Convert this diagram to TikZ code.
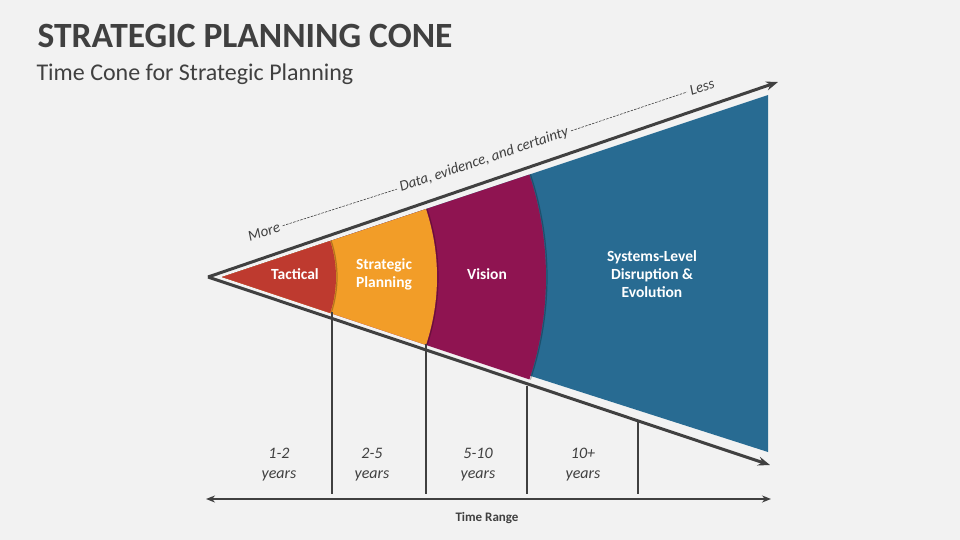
\documentclass[tikz,border=0pt]{standalone}
\usepackage{fontspec}
\setmainfont{Carlito}
\usetikzlibrary{arrows.meta}
\definecolor{bg}{HTML}{F2F2F2}
\definecolor{cred}{HTML}{BE3A2F}
\definecolor{corange}{HTML}{F29D28}
\definecolor{cpurple}{HTML}{8F1451}
\definecolor{cblue}{HTML}{286B92}
\definecolor{dk}{HTML}{404040}
\begin{document}
\begin{tikzpicture}[x=1pt,y=-1pt,
  axis/.style={draw=dk,line width=3pt,-{Stealth[length=12pt,width=9pt]}},
  tick/.style={draw=dk,line width=1.6pt},
  seg/.style={font=\bfseries\fontsize{15.5}{18}\selectfont,text=white,align=center},
  yr/.style={font=\itshape\fontsize{16}{20}\selectfont,text=dk,align=center},
  lab/.style={font=\itshape\fontsize{15}{17}\selectfont,text=dk,rotate=18.5,inner sep=3pt},
  dsh/.style={draw=dk,line width=0.6pt,dash pattern=on 2.5pt off 1.2pt},
  bnd/.style={draw=black,opacity=.25,line width=1.2pt}]
\fill[bg] (0,0) rectangle (960,540);
\useasboundingbox (0,0) rectangle (960,540);
\node[anchor=west,font=\bfseries\fontsize{35.5}{40}\selectfont,text=dk] (title) at (34,36) {STRATEGIC PLANNING CONE};
\node[anchor=west,font=\fontsize{24}{28}\selectfont,text=dk] (sub) at (33,74) {Time Cone for Strategic Planning};
% cone
\coordinate (ap) at (222,277);
\fill[cblue] (ap) -- (768,95) -- (768,452) -- cycle;
\fill[cpurple] (ap) -- ++(18.43:324) arc[start angle=18.43,end angle=-18.43,radius=324] -- cycle;
\fill[corange] (ap) -- ++(18.43:215) arc[start angle=18.43,end angle=-18.43,radius=215] -- cycle;
\fill[cred] (ap) -- ++(18.43:114) arc[start angle=18.43,end angle=-18.43,radius=114] -- cycle;
\draw[bnd] (ap) ++(18.43:325) arc[start angle=18.43,end angle=-18.43,radius=325];
\draw[bnd] (ap) ++(18.43:216) arc[start angle=18.43,end angle=-18.43,radius=216];
\draw[bnd] (ap) ++(18.43:115) arc[start angle=18.43,end angle=-18.43,radius=115];
% axes
\coordinate (apex) at (208,277);
\coordinate (up) at (778,82);
\coordinate (lo) at (770,465);
\draw[axis] (apex) -- (up);
\draw[axis] (apex) -- (lo);
% labels in cone
\node[seg] (t) at (295,274) {Tactical};
\node[seg] (s) at (384,274) {Strategic\\Planning};
\node[seg] (v) at (487,274) {Vision};
\node[seg] (b) at (652,274) {Systems-Level\\Disruption \&\\Evolution};
% top dashed label
\node[lab] (more) at (264,232) {More};
\node[lab] (data) at (484,160) {Data, evidence, and certainty};
\node[lab] (less) at (702,87) {Less};
\draw[dsh] (more.east) -- (data.west);
\draw[dsh] (data.east) -- (less.west);
% ticks
\coordinate (b1) at (332,312); \coordinate (e1) at (332,494);
\coordinate (b2) at (426,344); \coordinate (e2) at (426,494);
\coordinate (b3) at (527,386); \coordinate (e3) at (527,494);
\coordinate (b4) at (638,422); \coordinate (e4) at (638,494);
\draw[tick] (b1) -- (e1);
\draw[tick] (b2) -- (e2);
\draw[tick] (b3) -- (e3);
\draw[tick] (b4) -- (e4);
\node[yr] (y1) at (279,465) {1-2\\years};
\node[yr] (y2) at (372,465) {2-5\\years};
\node[yr] (y3) at (478,465) {5-10\\years};
\node[yr] (y4) at (583,465) {10+\\years};
% time range
\coordinate (tl) at (206,499);
\coordinate (tr) at (771,499);
\draw[draw=dk,line width=1.5pt,{Stealth[length=9pt,width=7pt]}-{Stealth[length=9pt,width=7pt]}] (tl) -- (tr);
\node[font=\bfseries\fontsize{13}{15}\selectfont,text=dk] (tr_lab) at (487,518) {Time Range};
\end{tikzpicture}
\end{document}
